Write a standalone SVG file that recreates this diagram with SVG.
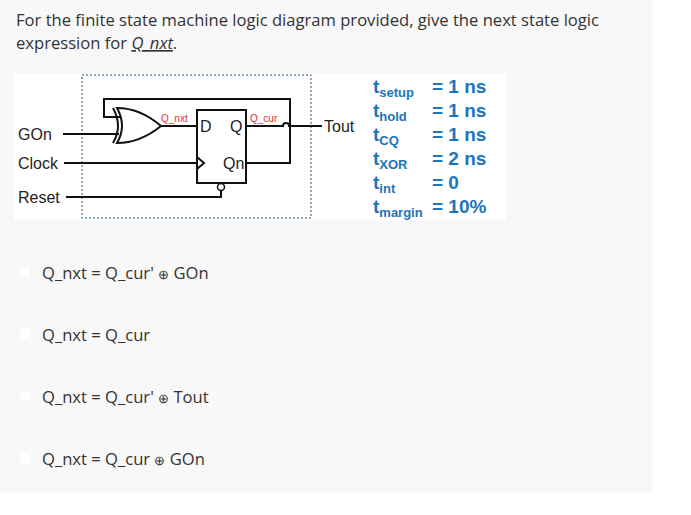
<svg xmlns="http://www.w3.org/2000/svg" width="691" height="515" viewBox="0 0 691 515">
<style>
.t{font-family:"Open Sans",sans-serif;font-size:16.6px;fill:#333}
.a{font-family:"Liberation Sans",Arial,sans-serif;font-size:16px;fill:#222}
.r{font-family:"Liberation Sans",Arial,sans-serif;font-size:10px;fill:#e03040}
.b{font-family:"Liberation Sans",Arial,sans-serif;font-size:19px;font-weight:bold;fill:#1b75bc}
.s{font-size:13px}
.w{stroke:#111;stroke-width:2;fill:none}
.cb{fill:#fff}
</style>
<rect width="691" height="515" fill="#fff"/>
<rect width="652" height="492" fill="#f8f8f8"/>
<text class="t" x="16" y="26">For the finite state machine logic diagram provided, give the next state logic</text>
<text class="t" x="16" y="49">expression for <tspan font-style="italic" text-decoration="underline">Q_nxt</tspan>.</text>
<rect x="14" y="74" width="492" height="146" fill="#fff"/>
<rect x="82" y="75" width="229" height="143" fill="none" stroke="#2a4a8a" stroke-width="1" stroke-dasharray="2,2"/>
<g id="connectors">
<path class="w" d="M63 134H119M64 163H197M66 197H221V191M161 126H197M246 126H283A3 3 0 0 1 289 126H322M246 163H290V99H104V117H120"/>
</g>
<g id="xor">
<path class="w" d="M113 108Q123 126 113 143"/>
<path class="w" d="M117 108Q127 126 117 143Q140 143 161 126Q140 108 117 108Z"/>
</g>
<g id="flop">
<rect x="197" y="110" width="49" height="73" fill="#fff" stroke="#111" stroke-width="2"/>
<path class="w" d="M197 157L204 163L197 169"/>
<circle cx="221" cy="187" r="3.5" fill="#fff" stroke="#111" stroke-width="1.5"/>
<text class="a" x="200" y="132">D</text>
<text class="a" x="230" y="132">Q</text>
<text class="a" x="223" y="169">Qn</text>
</g>
<text class="r" x="161" y="122">Q_nxt</text>
<text class="r" x="250" y="122">Q_cur</text>
<text class="a" x="18" y="140">GOn</text>
<text class="a" x="18" y="169">Clock</text>
<text class="a" x="18" y="203">Reset</text>
<text class="a" x="324" y="132">Tout</text>
<g id="timing">
<text class="b" x="373" y="93">t<tspan class="s" dy="4">setup</tspan></text>
<text class="b" x="373" y="117">t<tspan class="s" dy="4">hold</tspan></text>
<text class="b" x="373" y="141">t<tspan class="s" dy="4">CQ</tspan></text>
<text class="b" x="373" y="165">t<tspan class="s" dy="4">XOR</tspan></text>
<text class="b" x="373" y="189">t<tspan class="s" dy="4">int</tspan></text>
<text class="b" x="373" y="213">t<tspan class="s" dy="4">margin</tspan></text>
<text class="b" x="432" y="93">= 1 ns</text>
<text class="b" x="432" y="117">= 1 ns</text>
<text class="b" x="432" y="141">= 1 ns</text>
<text class="b" x="432" y="165">= 2 ns</text>
<text class="b" x="432" y="189">= 0</text>
<text class="b" x="432" y="213">= 10%</text>
</g>
<g id="options">
<rect class="cb" x="20" y="267" width="10" height="10"/>
<rect class="cb" x="20" y="329" width="10" height="10"/>
<rect class="cb" x="20" y="391" width="10" height="10"/>
<rect class="cb" x="20" y="453" width="10" height="10"/>
<text class="t" x="42" y="279">Q_nxt = Q_cur' <tspan font-size="13">⊕</tspan> GOn</text>
<text class="t" x="42" y="341">Q_nxt = Q_cur</text>
<text class="t" x="42" y="403">Q_nxt = Q_cur' <tspan font-size="13">⊕</tspan> Tout</text>
<text class="t" x="42" y="465">Q_nxt = Q_cur <tspan font-size="13">⊕</tspan> GOn</text>
</g>
</svg>
